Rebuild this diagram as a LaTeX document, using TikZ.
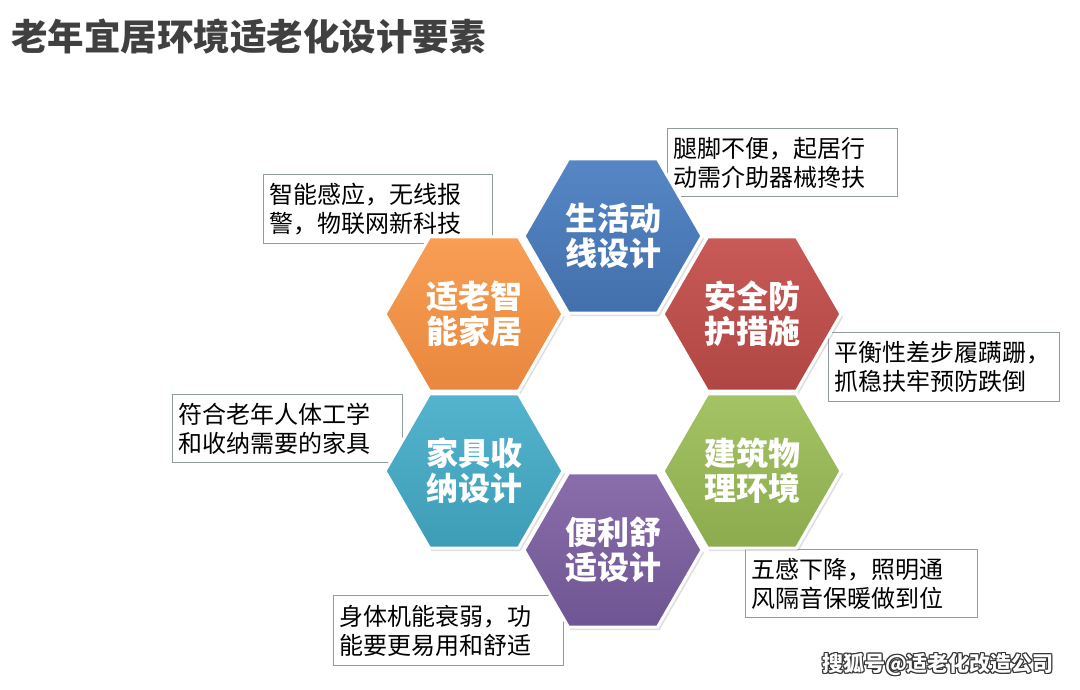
\documentclass[tikz,border=0pt]{standalone}
\usepackage{fontspec}
\setmainfont{Noto Sans CJK SC}
\usetikzlibrary{shapes.geometric,shadows}
\definecolor{titlegray}{HTML}{404040}
\definecolor{boxline}{HTML}{8F9C9C}
\definecolor{bluetop}{HTML}{5686C4}\definecolor{bluebot}{HTML}{4170AC}
\definecolor{orangetop}{HTML}{F89F55}\definecolor{orangebot}{HTML}{E8873D}
\definecolor{redtop}{HTML}{C85A57}\definecolor{redbot}{HTML}{B04643}
\definecolor{tealtop}{HTML}{55B4CD}\definecolor{tealbot}{HTML}{3D9CB6}
\definecolor{greentop}{HTML}{A4C365}\definecolor{greenbot}{HTML}{8BAB4D}
\definecolor{purpletop}{HTML}{8A6EAB}\definecolor{purplebot}{HTML}{6F5593}
\tikzset{
  hexa/.style={regular polygon, regular polygon sides=6,
    minimum size=178pt, inner sep=0pt, draw=white, line width=3pt,
    top color=#1top, bottom color=#1bot, text=white, align=center,
    font=\fontsize{32}{35}\selectfont\bfseries,
    drop shadow={opacity=0.25, shadow xshift=2pt, shadow yshift=-3pt}},
  notebox/.style={draw=boxline, line width=1.1pt, fill=white, anchor=north west,
    inner xsep=6pt, inner ysep=0pt, align=left, text=black,
    font=\fontsize{24}{29}\selectfont},
}
\begin{document}
\begin{tikzpicture}[x=1pt,y=-1pt]
\useasboundingbox (0,0) rectangle (1080,690);
\fill[white] (0,0) rectangle (1080,690);
% title
\node[anchor=west, inner sep=0pt, text=titlegray, font=\fontsize{36.5}{40}\selectfont\bfseries] (title) at (11,37) {老年宜居环境适老化设计要素};
% note boxes
\node[notebox, text width=217pt, minimum height=69pt] (n1) at (263,174) {智能感应，无线报\\警，物联网新科技};
\node[notebox, text width=218pt, minimum height=68pt] (n2) at (667,128) {腿脚不便，起居行\\动需介助器械搀扶};
\node[notebox, text width=219pt, minimum height=69pt] (n3) at (828,332) {平衡性差步履蹒跚，\\抓稳扶牢预防跌倒};
\node[notebox, text width=218pt, minimum height=68pt] (n4) at (172,394) {符合老年人体工学\\和收纳需要的家具};
\node[notebox, text width=220pt, minimum height=68pt] (n5) at (745,549) {五感下降，照明通\\风隔音保暖做到位};
\node[notebox, text width=218pt, minimum height=70pt] (n6) at (333,595) {身体机能衰弱，功\\能要更易用和舒适};
% hexagons
\node[hexa=blue]   (h1) at (613,236) {生活动\\线设计};
\node[hexa=orange] (h2) at (474,314) {适老智\\能家居};
\node[hexa=red]    (h3) at (752,314) {安全防\\护措施};
\node[hexa=teal]   (h4) at (474,471) {家具收\\纳设计};
\node[hexa=green]  (h5) at (752,471) {建筑物\\理环境};
\node[hexa=purple] (h6) at (613,550) {便利舒\\适设计};
% watermark
\foreach \dx/\dy in {-1/0,1/0,0/-1,0/1,-1/-1,1/1,-1/1,1/-1}{
  \node[text=black!80, font=\fontsize{21}{24}\selectfont\bfseries, inner sep=0pt] at (938+\dx,665+\dy) {搜狐号@适老化改造公司};
}
\node[text=white, font=\fontsize{21}{24}\selectfont\bfseries, inner sep=0pt] (wm) at (938,665) {搜狐号@适老化改造公司};
\end{tikzpicture}
\end{document}
